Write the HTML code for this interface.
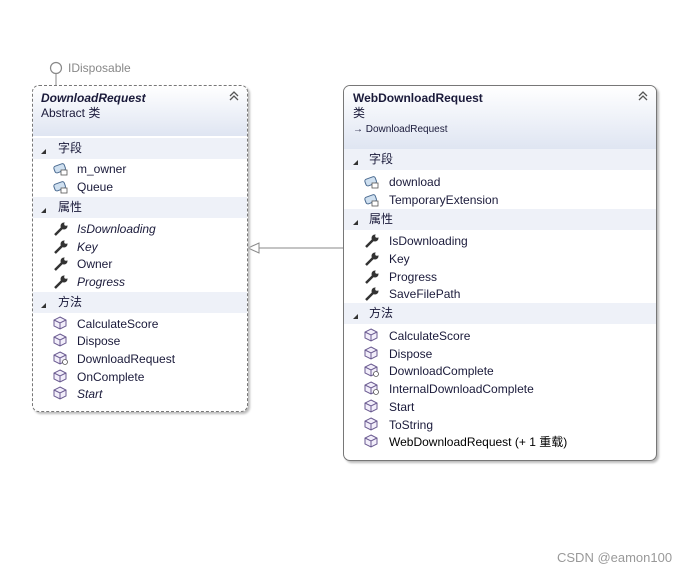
<!DOCTYPE html><html><head><meta charset="utf-8"><style>
body{margin:0;width:690px;height:573px;background:#fff;position:relative;overflow:hidden;font-family:"Liberation Sans","Noto Sans CJK SC",sans-serif;font-size:12px;color:#1a1a3a}
.box{position:absolute;background:#fff;border-radius:7px;box-shadow:2px 2px 2px #bbb;overflow:hidden}
.hd{position:absolute;left:0;right:0;top:0;background:linear-gradient(#fff,#dfe5f2)}
.sec{position:absolute;left:0;right:0;height:21px;background:#eef1f8}
.t{position:absolute;white-space:nowrap;line-height:14px}
.tri{position:absolute;width:0;height:0;border-left:5px solid transparent;border-bottom:5px solid #333}
</style></head><body>
<svg width="690" height="573" style="position:absolute;left:0;top:0">
<circle cx="56" cy="68" r="5.5" fill="#fff" stroke="#888" stroke-width="1.2"/>
<line x1="56" y1="74" x2="56" y2="86" stroke="#888"/>
<line x1="258" y1="248" x2="343" y2="248" stroke="#888"/>
<polygon points="248,248 259,243 259,253" fill="#fff" stroke="#888"/>
</svg>
<div class="t" style="left:68px;top:61px;color:#888;font-size:12px">IDisposable</div>

<div class="box" style="left:32px;top:85px;width:214px;height:325px;border:1px dashed #777">
<div class="hd" style="height:50px"></div>
<div class="t" style="left:8px;top:5px;font-weight:bold;font-style:italic">DownloadRequest</div>
<div class="t" style="left:8px;top:20px">Abstract 类</div>
<div class="sec" style="top:52px"></div><div class="tri" style="left:8px;top:63px"></div><div class="t" style="left:25px;top:55px">字段</div>
<div class="sec" style="top:111px"></div><div class="tri" style="left:8px;top:122px"></div><div class="t" style="left:25px;top:114px">属性</div>
<div class="sec" style="top:206px"></div><div class="tri" style="left:8px;top:217px"></div><div class="t" style="left:25px;top:209px">方法</div>
</div>

<div class="box" style="left:343px;top:85px;width:312px;height:374px;border:1px solid #777">
<div class="hd" style="height:63px"></div>
<div class="t" style="left:9px;top:5px;font-weight:bold">WebDownloadRequest</div>
<div class="t" style="left:9px;top:20px">类</div>
<div class="t" style="left:9px;top:37px;font-size:10px">&#8594; DownloadRequest</div>
<div class="sec" style="top:63px"></div><div class="tri" style="left:9px;top:74px"></div><div class="t" style="left:25px;top:66px">字段</div>
<div class="sec" style="top:123px"></div><div class="tri" style="left:9px;top:134px"></div><div class="t" style="left:25px;top:126px">属性</div>
<div class="sec" style="top:217px"></div><div class="tri" style="left:9px;top:228px"></div><div class="t" style="left:25px;top:220px">方法</div>
</div>

<svg width="690" height="573" style="position:absolute;left:0;top:0">
<defs>
<g id="f"><rect x="0" y="3" width="11" height="7" rx="2" fill="#cfe0f0" stroke="#4a6a90" transform="rotate(-20 5 6)"/><rect x="7" y="8" width="6" height="5" fill="#fff" stroke="#555" stroke-width=".8"/></g>
<g id="w"><path d="M1 13 L8 6" stroke="#333" stroke-width="2.5"/><circle cx="10" cy="4" r="3.5" fill="#333"/><circle cx="12" cy="2" r="1.8" fill="#fff"/></g>
<g id="m"><path d="M6 1 L12 4 L12 10 L6 13 L0 10 L0 4 Z" fill="#f2eefa" stroke="#6a5a90"/><path d="M0 4 L6 7 L12 4 M6 7 L6 13" fill="none" stroke="#6a5a90"/></g>
<g id="ms"><use href="#m"/><circle cx="11" cy="11" r="2.5" fill="#fff" stroke="#555" stroke-width=".8"/></g>
<g id="c"><polyline points="0,4 4,0 8,4" fill="none" stroke="#555" stroke-width="1.3"/><polyline points="0,8 4,4 8,8" fill="none" stroke="#555" stroke-width="1.3"/></g>
</defs>
<use href="#c" x="230" y="92"/><use href="#c" x="639" y="92"/>
<use href="#f" x="54" y="162"/><use href="#f" x="54" y="180"/>
<use href="#w" x="54" y="222"/><use href="#w" x="54" y="240"/><use href="#w" x="54" y="257"/><use href="#w" x="54" y="275"/>
<use href="#m" x="54" y="316"/><use href="#m" x="54" y="333"/><use href="#ms" x="54" y="351"/><use href="#m" x="54" y="369"/><use href="#m" x="54" y="386"/>
<use href="#f" x="365" y="175"/><use href="#f" x="365" y="193"/>
<use href="#w" x="365" y="234"/><use href="#w" x="365" y="252"/><use href="#w" x="365" y="270"/><use href="#w" x="365" y="287"/>
<use href="#m" x="365" y="328"/><use href="#m" x="365" y="346"/><use href="#ms" x="365" y="363"/><use href="#ms" x="365" y="381"/><use href="#m" x="365" y="399"/><use href="#m" x="365" y="417"/><use href="#m" x="365" y="434"/>
</svg>

<div class="t" style="left:77px;top:162px">m_owner</div>
<div class="t" style="left:77px;top:180px">Queue</div>
<div class="t" style="left:77px;top:222px;font-style:italic">IsDownloading</div>
<div class="t" style="left:77px;top:240px;font-style:italic">Key</div>
<div class="t" style="left:77px;top:257px">Owner</div>
<div class="t" style="left:77px;top:275px;font-style:italic">Progress</div>
<div class="t" style="left:77px;top:317px">CalculateScore</div>
<div class="t" style="left:77px;top:334px">Dispose</div>
<div class="t" style="left:77px;top:352px">DownloadRequest</div>
<div class="t" style="left:77px;top:370px">OnComplete</div>
<div class="t" style="left:77px;top:387px;font-style:italic">Start</div>

<div class="t" style="left:389px;top:175px">download</div>
<div class="t" style="left:389px;top:193px">TemporaryExtension</div>
<div class="t" style="left:389px;top:234px">IsDownloading</div>
<div class="t" style="left:389px;top:252px">Key</div>
<div class="t" style="left:389px;top:270px">Progress</div>
<div class="t" style="left:389px;top:287px">SaveFilePath</div>
<div class="t" style="left:389px;top:329px">CalculateScore</div>
<div class="t" style="left:389px;top:347px">Dispose</div>
<div class="t" style="left:389px;top:364px">DownloadComplete</div>
<div class="t" style="left:389px;top:382px">InternalDownloadComplete</div>
<div class="t" style="left:389px;top:400px">Start</div>
<div class="t" style="left:389px;top:418px">ToString</div>
<div class="t" style="left:389px;top:435px;color:#000">WebDownloadRequest (+ 1 重载)</div>

<div class="t" style="left:557px;top:551px;color:#999;font-size:13px">CSDN @eamon100</div>
</body></html>
